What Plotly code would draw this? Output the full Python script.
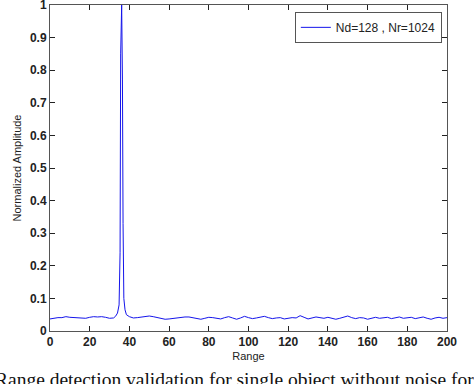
import plotly.graph_objects as go

range_x = [0, 2, 4, 6, 8, 10, 12, 14, 16, 18, 20, 22, 24, 26, 28, 30, 32, 33, 34, 34.8,
           35.3, 35.6, 36.1, 36.5, 36.8, 37.2, 37.8, 38.5, 40, 42, 44, 46, 48, 50, 52, 54,
           56, 58, 60, 62, 64, 66, 68, 70, 72, 74, 76, 78, 80, 82, 84, 86, 88, 90, 92, 94,
           96, 98, 100, 102, 104, 106, 108, 110, 112, 114, 116, 118, 120, 122, 124, 126,
           128, 130, 132, 134, 136, 138, 140, 142, 144, 146, 148, 150, 152, 154, 156, 158,
           160, 162, 164, 166, 168, 170, 172, 174, 176, 178, 180, 182, 184, 186, 188, 190,
           192, 194, 196, 198, 200]
amplitude = [0.037, 0.040, 0.041, 0.041, 0.044, 0.042, 0.041, 0.040, 0.038, 0.039, 0.042,
             0.044, 0.043, 0.044, 0.042, 0.039, 0.040, 0.045, 0.055, 0.080,
             0.240, 0.850, 1.000, 0.770, 0.330, 0.100, 0.065, 0.050, 0.044, 0.040, 0.041,
             0.043, 0.045, 0.046, 0.044, 0.042,
             0.038, 0.036, 0.037, 0.039, 0.040, 0.042, 0.043, 0.043, 0.041, 0.038, 0.036,
             0.039, 0.042, 0.041, 0.038, 0.037, 0.041, 0.044, 0.040, 0.036,
             0.040, 0.045, 0.041, 0.038, 0.040, 0.043, 0.045, 0.041, 0.038, 0.040, 0.041,
             0.037, 0.039, 0.041, 0.040, 0.047,
             0.042, 0.037, 0.040, 0.043, 0.041, 0.039, 0.042, 0.040, 0.036, 0.039, 0.043,
             0.046, 0.041, 0.038, 0.041, 0.040,
             0.036, 0.040, 0.042, 0.039, 0.041, 0.042, 0.038, 0.040, 0.043, 0.039, 0.040,
             0.042, 0.038, 0.041, 0.043, 0.039,
             0.036, 0.040, 0.042, 0.039, 0.041]
series_name = "Nd=128 , Nr=1024"
x_ticks = [0, 20, 40, 60, 80, 100, 120, 140, 160, 180, 200]
y_ticks = [0, 0.1, 0.2, 0.3, 0.4, 0.5, 0.6, 0.7, 0.8, 0.9, 1]
caption = "Range detection validation for single object without noise for"

fig = go.Figure()
fig.add_trace(go.Scatter(x=range_x, y=amplitude, mode="lines", name=series_name,
                         line=dict(color="rgb(20,20,235)", width=1)))

axis_common = dict(showgrid=False, zeroline=False, showline=True, linecolor="#555",
                   linewidth=1, mirror="ticks", ticks="inside", ticklen=5,
                   tickcolor="#222", ticklabeloverflow="allow",
                   tickfont=dict(family="Arial", size=12, color="#222", weight="bold"))

fig.update_xaxes(range=[0, 200], tickvals=x_ticks, **axis_common,
                 title=dict(text="Range",
                            font=dict(family="Arial", size=11, color="#222"),
                            standoff=3))
fig.update_yaxes(range=[0, 1], tickvals=y_ticks, **axis_common,
                 title=dict(text="Normalized Amplitude",
                            font=dict(family="Arial", size=11, color="#222"), standoff=6))

fig.update_layout(
    width=474, height=384,
    margin=dict(l=50, r=27, t=5, b=53, autoexpand=False),
    paper_bgcolor="white", plot_bgcolor="white",
    showlegend=True,
    legend=dict(x=0.987, y=0.979, xanchor="right", yanchor="top",
                bgcolor="white", bordercolor="#555", borderwidth=1,
                font=dict(family="Arial", size=12, color="#222"),
                tracegroupgap=0),
    annotations=[dict(text=caption, xref="paper", yref="paper", x=-0.143, y=-0.15,
                      xanchor="left", yanchor="middle", showarrow=False,
                      font=dict(family="Liberation Serif", size=19.5, color="#111"))],
)

fig.write_html("out.html", config={"displayModeBar": False},
               post_script="document.body.style.margin='0';")
